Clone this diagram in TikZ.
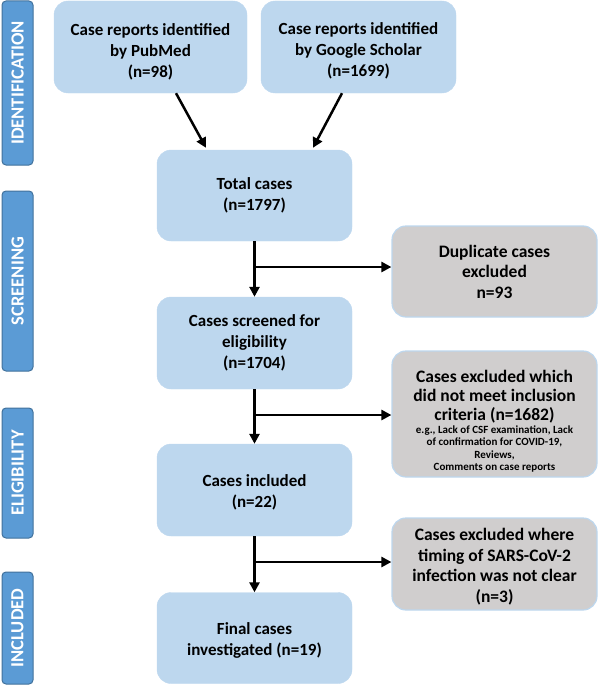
\documentclass[tikz,border=0pt]{standalone}
\usepackage{fontspec}
\setmainfont{Carlito}
\usetikzlibrary{arrows.meta}
\definecolor{boxblue}{HTML}{BDD7EE}
\definecolor{boxgray}{HTML}{D0CECE}
\definecolor{barblue}{HTML}{5B9BD5}
\definecolor{barline}{HTML}{41719C}
\tikzset{
  bluebox/.style={draw=boxblue, fill=boxblue, rounded corners=14pt, minimum width=195pt, minimum height=92pt, align=center, inner sep=0pt, font=\bfseries\fontsize{17}{21}\selectfont},
  graybox/.style={draw=boxblue, line width=1.2pt, fill=boxgray, rounded corners=14pt, minimum width=205pt, minimum height=92pt, align=center, inner sep=0pt, font=\bfseries\fontsize{17.5}{20.5}\selectfont},
  sidebar/.style={draw=barline, line width=1pt, fill=barblue, rounded corners=4pt, minimum height=31pt, inner sep=0pt, rotate=90, text=white, font=\bfseries\fontsize{18.5}{22}\selectfont},
  arr/.style={line width=2.5pt, -{Triangle[length=10pt,width=10pt]}}
}
\newcommand{\smalltext}[1]{{\fontsize{11}{12.5}\selectfont #1}}
\newcommand{\lift}[1]{\rule{0pt}{#1}}
\begin{document}
\begin{tikzpicture}[x=1pt,y=-1pt]
\useasboundingbox (0,0) rectangle (601,685);
% side bars
\node[sidebar, minimum width=164pt] (sid) at (17.5,83) {IDENTIFICATION};
\node[sidebar, minimum width=180pt] (ssc) at (17.5,281) {SCREENING};
\node[sidebar, minimum width=130pt] (sel) at (17.5,473) {ELIGIBILITY};
\node[sidebar, minimum width=112pt] (sin) at (17.5,628) {INCLUDED};
% main boxes
\node[bluebox, minimum width=193pt] (pub) at (150.5,47) {\lift{22pt}Case reports identified\\by PubMed\\(n=98)};
\node[bluebox] (goo) at (358.5,47) {\lift{20pt}Case reports identified\\by Google Scholar\\(n=1699)};
\node[bluebox, minimum height=91pt] (tot) at (254.5,195.5) {Total cases\\(n=1797)};
\node[bluebox] (scr) at (254.5,343) {Cases screened for\\eligibility\\(n=1704)};
\node[bluebox] (inc) at (254.5,490) {\lift{16pt}Cases included\\(n=22)};
\node[bluebox, minimum height=91pt] (fin) at (254.5,638) {\lift{16pt}Final cases\\investigated (n=19)};
% exclusion boxes
\node[graybox, minimum height=91pt] (dup) at (494.5,271.5) {Duplicate cases\\excluded\\n=93};
\node[graybox, minimum height=126pt, font=\bfseries\fontsize{17.5}{19}\selectfont] (cri) at (494.5,414) {\lift{26.5pt}Cases excluded which\\did not meet inclusion\\criteria (n=1682)\\[-6pt]\smalltext{e.g., Lack of CSF examination, Lack}\\[-6.5pt]\smalltext{of confirmation for COVID-19,}\\[-6.5pt]\smalltext{Reviews,}\\[-6.5pt]\smalltext{Comments on case reports}};
\node[graybox] (tim) at (494.5,564) {\lift{18pt}Cases excluded where\\timing of SARS-CoV-2\\infection was not clear\\(n=3)};
% connectors
\draw[arr] ([xshift=25.5pt]pub.south) -- ([xshift=-48.5pt,yshift=2pt]tot.north);
\draw[arr] ([xshift=-16.5pt]goo.south) -- ([xshift=58.5pt,yshift=2pt]tot.north);
\draw[arr] (tot.south) -- (scr.north);
\draw[arr] (scr.south) -- (inc.north);
\draw[arr] (inc.south) -- (fin.north);
\coordinate (b1) at (254.5,267);
\coordinate (b2) at (254.5,415);
\coordinate (b3) at (254.5,562);
\draw[arr] (b1) -- (b1 -| dup.west);
\draw[arr] (b2) -- (b2 -| cri.west);
\draw[arr] (b3) -- (b3 -| tim.west);
\end{tikzpicture}
\end{document}
